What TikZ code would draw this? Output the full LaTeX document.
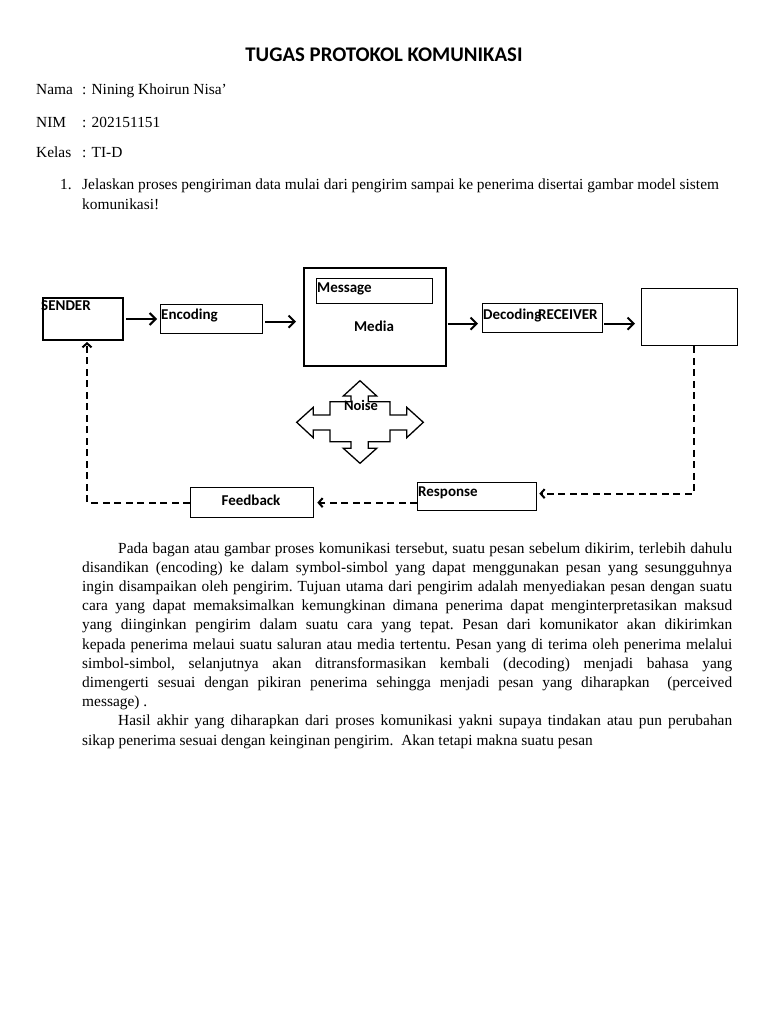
\documentclass[tikz,border=0pt]{standalone}
\usepackage{fontspec}
\setmainfont{Liberation Serif}
\newfontfamily\carl{Carlito}
\usetikzlibrary{arrows.meta,calc}
\begin{document}
\begin{tikzpicture}[x=1pt,y=-1pt,
 box/.style={draw,line width=1.3pt,inner sep=0pt,anchor=north west},
 lbl/.style={font=\carl\bfseries\fontsize{15}{17}\selectfont,inner sep=0pt,anchor=base west},
 body/.style={font=\fontsize{15.4}{19.2}\selectfont,inner sep=0pt,anchor=base west},
 arr/.style={line width=2pt,-{Straight Barb[length=6pt,width=12pt,line width=2pt]}},
 dsh/.style={line width=2pt,dash pattern=on 7pt off 4.5pt},
 dsharr/.style={dsh,-{Straight Barb[length=4pt,width=9pt,line width=2pt]}}
]
\fill[white] (0,0) rectangle (768,1024);
\useasboundingbox (0,0) rectangle (768,1024);

% header
\node[font=\carl\bfseries\fontsize{20.8}{24}\selectfont,inner sep=0pt,anchor=base] (title) at (384,62) {TUGAS PROTOKOL KOMUNIKASI};
\node[body] (nama) at (36,95) {Nama};
\node[body] (namav) at (82,95) {: Nining Khoirun Nisa’};
\node[body] (nim) at (36,128) {NIM};
\node[body] (nimv) at (82,128) {: 202151151};
\node[body] (kelas) at (36,158) {Kelas};
\node[body] (kelasv) at (82,158) {: TI-D};
\node[body] (qnum) at (60,190) {1.};
\node[body] (q1) at (82,190) {Jelaskan proses pengiriman data mulai dari pengirim sampai ke penerima disertai gambar model sistem};
\node[body] (q2) at (82,210) {komunikasi!};

% boxes
\node[box,line width=2pt,minimum width=80,minimum height=42] (sender) at (42,297) {};
\node[box,minimum width=102,minimum height=29] (enc) at (160,304) {};
\node[box,line width=1.7pt,minimum width=142,minimum height=98] (media) at (303,267) {};
\node[box,minimum width=116,minimum height=25] (msg) at (316,278) {};
\node[box,minimum width=120,minimum height=29] (dec) at (482,303) {};
\node[box,minimum width=96,minimum height=57] (rec) at (641,288) {};
\node[box,minimum width=119,minimum height=28] (resp) at (417,482) {};
\node[box,minimum width=123,minimum height=30] (fb) at (190,487) {};

% labels
\node[lbl] (tsender) at (41,310) {SENDER};
\node[lbl] (tenc) at (161,319) {Encoding};
\node[lbl] (tmsg) at (317,292) {Message};
\node[lbl,anchor=base] (tmedia) at (374,331) {Media};
\node[lbl] (tdec) at (483,319) {Decoding};
\node[lbl] (trec) at (538,319) {RECEIVER};
\node[lbl] (tresp) at (418,496) {Response};
\node[lbl,anchor=base] (tfb) at (251,505) {Feedback};

% solid arrows
\draw[arr,shorten <=2pt,shorten >=3pt] (sender.east) -- (sender.east -| enc.west);
\draw[arr,shorten <=2pt,shorten >=7pt] ([yshift=-2.5pt]enc.east) -- ([yshift=-2.5pt]enc.east -| media.west);
\draw[arr,shorten <=1pt,shorten >=4pt] ([yshift=-5.5pt]dec.west -| media.east) -- ([yshift=-5.5pt]dec.west);
\draw[arr,shorten <=1pt,shorten >=6pt] ([yshift=-5.5pt]dec.east) -- ([yshift=-5.5pt]dec.east -| rec.west);

% dashed feedback loop
\draw[dsharr,shorten >=2pt] ([xshift=4pt]rec.south) |- ([yshift=3pt]resp.east);
\draw[dsharr,shorten >=3pt] (fb.east -| resp.west) -- (fb.east);
\draw[dsharr,shorten >=1pt] (fb.west) -| ([xshift=4pt]sender.south);

% noise quad arrow
\draw[line width=1.3pt,line join=miter]
 (360,380.7) -- (376.7,396) -- (368.3,396) -- (368.3,401.7) -- (390,401.7) -- (390,415)
 -- (406.7,415) -- (406.7,407.3) -- (423.3,422.3) -- (406.7,437.7) -- (406.7,430)
 -- (390,430) -- (390,441.7) -- (368.3,441.7) -- (368.3,448.3) -- (376.7,448.3)
 -- (360,463.3) -- (343.3,448.3) -- (351,448.3) -- (351,441.7) -- (330,441.7)
 -- (330,430) -- (313.3,430) -- (313.3,437.7) -- (296.7,422.3) -- (313.3,407.3)
 -- (313.3,415) -- (330,415) -- (330,401.7) -- (351,401.7) -- (351,396) -- (343.3,396) -- cycle;
\node[lbl,anchor=base,font=\carl\bfseries\fontsize{14.5}{16}\selectfont] (noise) at (361,410) {Noise};

% body paragraphs
\node[inner sep=0pt,anchor=north west,text width=650pt,align=justify,font=\fontsize{15.4}{19.2}\selectfont\frenchspacing] (para) at (82,539.5) {%
\strut\hspace*{36pt}Pada bagan atau gambar proses komunikasi tersebut, suatu pesan sebelum dikirim, terlebih dahulu\linebreak
disandikan (encoding) ke dalam symbol-simbol yang dapat menggunakan pesan yang sesungguhnya\linebreak
ingin disampaikan oleh pengirim. Tujuan utama dari pengirim adalah menyediakan pesan dengan suatu\linebreak
cara yang dapat memaksimalkan kemungkinan dimana penerima dapat menginterpretasikan maksud\linebreak
yang diinginkan pengirim dalam suatu cara yang tepat. Pesan dari komunikator akan dikirimkan\linebreak
kepada penerima melaui suatu saluran atau media tertentu. Pesan yang di terima oleh penerima melalui\linebreak
simbol-simbol, selanjutnya akan ditransformasikan kembali (decoding) menjadi bahasa yang\linebreak
dimengerti sesuai dengan pikiran penerima sehingga menjadi pesan yang diharapkan~ (perceived\linebreak
message) .\par
\hspace*{36pt}Hasil akhir yang diharapkan dari proses komunikasi yakni supaya tindakan atau pun perubahan\linebreak
sikap penerima sesuai dengan keinginan pengirim.~ Akan tetapi makna suatu pesan\par};
\end{tikzpicture}
\end{document}
